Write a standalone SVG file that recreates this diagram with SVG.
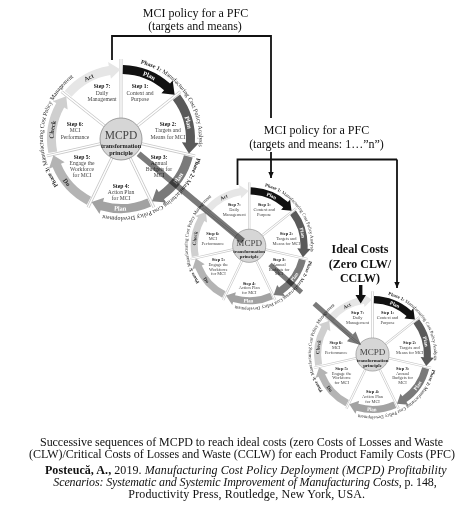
<svg xmlns="http://www.w3.org/2000/svg" xmlns:xlink="http://www.w3.org/1999/xlink" width="474" height="520" viewBox="0 0 474 520">
<style>
text { font-family: "Liberation Serif", "Times New Roman", serif; }
.b { font-weight: bold; }
.i { font-style: italic; }
.lb { font-size: 12px; text-anchor: middle; fill: #111; }
.ph { font-size: 6px; text-anchor: middle; fill: #222; }
.rl { font-size: 6.5px; font-weight: bold; text-anchor: middle; }
.w { fill: #fff; }
.d { fill: #333; }
.st { font-size: 5.6px; text-anchor: middle; fill: #444; }
.st .b { fill: #111; }
.mc { font-size: 11.5px; text-anchor: middle; fill: #444; }
.tp { font-size: 6.2px; font-weight: bold; text-anchor: middle; fill: #222; }
.hub { fill: #d6d6d6; stroke: #8a8a8a; stroke-width: 0.8; }
.so { fill: none; stroke: #c8c8c8; stroke-width: 3; }
.si { fill: none; stroke: #fff; stroke-width: 1.4; }
.ln { fill: none; stroke: #111; stroke-width: 1.8; }
.bar { stroke: #7a7a7a; fill: none; mix-blend-mode: multiply; }
.barh { fill: #7a7a7a; mix-blend-mode: multiply; }
.cap { font-size: 12px; text-anchor: middle; fill: #111; }
</style>
<defs>
<marker id="ah" markerUnits="userSpaceOnUse" markerWidth="7" markerHeight="6" refX="6" refY="2.7" orient="auto">
<path d="M0,0 L6,2.7 L0,5.4 Z" fill="#111"/>
</marker>
<path id="pc" d="M0,-78 A78,78 0 1 1 0,78 A78,78 0 1 1 0,-78"/>
<path id="lc" d="M0,-67.3 A67.3,67.3 0 1 1 0,67.3 A67.3,67.3 0 1 1 0,-67.3"/>
<path id="lcc" d="M0,-71.7 A71.7,71.7 0 1 0 0,71.7 A71.7,71.7 0 1 0 0,-71.7"/>
<path id="spk" d="M0,-21V-80M16.42,-13.09L59.42,-47.39M20.47,4.67L74.09,16.91M9.11,18.92L32.97,68.47M-9.11,18.92L-32.97,68.47M-20.47,4.67L-74.09,16.91M-16.42,-13.09L-59.42,-47.39"/>
<g id="ring">
<use href="#spk" class="so"/>
<use href="#spk" class="si"/>
<path fill="#111" d="M1.94,-73.97 A74,74 0 0 1 49.03,-55.42 L51.68,-58.42 L53.63,-44.21 L40.42,-45.69 L43.07,-48.68 A65,65 0 0 0 1.70,-64.98 Z"/>
<path fill="#5a5a5a" d="M59.10,-44.53 A74,74 0 0 1 73.90,3.87 L77.89,4.08 L67.98,14.45 L60.92,3.19 L64.91,3.40 A65,65 0 0 0 51.91,-39.12 Z"/>
<path fill="#7a7a7a" d="M71.64,18.53 A74,74 0 0 1 42.97,60.24 L45.29,63.50 L31.01,62.20 L35.42,49.66 L37.75,52.92 A65,65 0 0 0 62.93,16.27 Z"/>
<path fill="#a2a2a2" d="M30.10,67.60 A74,74 0 0 1 -20.40,71.13 L-21.50,74.98 L-29.37,62.99 L-16.81,58.64 L-17.92,62.48 A65,65 0 0 0 26.44,59.38 Z"/>
<path fill="#b4b4b4" d="M-34.17,65.64 A74,74 0 0 1 -68.37,28.32 L-72.06,29.85 L-67.58,16.22 L-56.36,23.34 L-60.05,24.87 A65,65 0 0 0 -30.01,57.66 Z"/>
<path fill="#cfcfcf" d="M-72.64,14.12 A74,74 0 0 1 -64.72,-35.88 L-68.22,-37.82 L-54.77,-42.79 L-53.35,-29.57 L-56.85,-31.51 A65,65 0 0 0 -63.81,12.40 Z"/>
<path fill="#e6e6e6" d="M-56.27,-48.06 A74,74 0 0 1 -12.21,-72.99 L-12.87,-76.93 L-0.61,-69.50 L-10.07,-60.16 L-10.73,-64.11 A65,65 0 0 0 -49.43,-42.21 Z"/>
<circle r="21" class="hub"/>
</g>
</defs>
<rect width="474" height="520" fill="#fff"/>

<g id="label-mci-1">
<text class="lb" x="195.5" y="16.5">MCI policy for a PFC</text>
<text class="lb" x="195" y="29.5">(targets and means)</text>
</g>
<g id="label-mci-2">
<text class="lb" x="316.5" y="134">MCI policy for a PFC</text>
<text class="lb" x="316.5" y="147.5">(targets and means: 1…”n”)</text>
</g>
<g id="label-ideal">
<text class="lb b" x="360" y="252.5">Ideal Costs</text>
<text class="lb b" x="360" y="267.5">(Zero CLW/</text>
<text class="lb b" x="360" y="282">CCLW)</text>
</g>

<g id="wheel1" transform="translate(121,139)">
<use href="#ring"/>
<text class="ph"><textPath href="#pc" startOffset="74.9"><tspan class="b">Phase 1:</tspan> Manufacturing Cost Policy Analysis</textPath></text>
<text class="ph"><textPath href="#pc" startOffset="202.2"><tspan class="b">Phase 2:</tspan> Manufacturing Cost Policy Development</textPath></text>
<text class="ph"><textPath href="#pc" startOffset="377.8"><tspan class="b">Phase 3:</tspan> Manufacturing Cost Policy Management</textPath></text>
<text class="rl w"><textPath href="#lc" startOffset="28.2">Plan</textPath></text>
<text class="rl w"><textPath href="#lc" startOffset="89.3">Plan</textPath></text>
<text class="rl w"><textPath href="#lcc" startOffset="294.1">Plan</textPath></text>
<text class="rl w"><textPath href="#lcc" startOffset="224">Plan</textPath></text>
<text class="rl d"><textPath href="#lcc" startOffset="160.7">Do</textPath></text>
<text class="rl d"><textPath href="#lc" startOffset="325.9">Check</textPath></text>
<text class="rl d"><textPath href="#lc" startOffset="389.7">Act</textPath></text>
<text class="st"><tspan class="b" x="19" y="-51">Step 1:</tspan><tspan x="19" y="-44.5">Context and</tspan><tspan x="19" y="-38">Purpose</tspan></text>
<text class="st"><tspan class="b" x="47" y="-13.5">Step 2:</tspan><tspan x="47" y="-7">Targets and</tspan><tspan x="47" y="-0.5">Means for MCI</tspan></text>
<text class="st"><tspan class="b" x="38" y="19.5">Step 3:</tspan><tspan x="38" y="25.5">Annual</tspan><tspan x="38" y="31.5">Budgets for</tspan><tspan x="38" y="37.5">MCI</tspan></text>
<text class="st"><tspan class="b" x="0" y="49">Step 4:</tspan><tspan x="0" y="55">Action Plan</tspan><tspan x="0" y="61">for MCI</tspan></text>
<text class="st"><tspan class="b" x="-39" y="19.5">Step 5:</tspan><tspan x="-39" y="25.5">Engage the</tspan><tspan x="-39" y="31.5">Workforce</tspan><tspan x="-39" y="37.5">for MCI</tspan></text>
<text class="st"><tspan class="b" x="-46" y="-13.5">Step 6:</tspan><tspan x="-46" y="-7">MCI</tspan><tspan x="-46" y="-0.5">Performance</tspan></text>
<text class="st"><tspan class="b" x="-19" y="-51">Step 7:</tspan><tspan x="-19" y="-44.5">Daily</tspan><tspan x="-19" y="-38">Management</tspan></text>
<text class="mc" y="0">MCPD</text>
<text class="tp" y="9">transformation</text>
<text class="tp" y="16">principle</text>
</g>

<g id="wheel2" transform="translate(249.2,245.8) scale(0.79)">
<use href="#ring"/>
<text class="ph"><textPath href="#pc" startOffset="74.9"><tspan class="b">Phase 1:</tspan> Manufacturing Cost Policy Analysis</textPath></text>
<text class="ph"><textPath href="#pc" startOffset="202.2"><tspan class="b">Phase 2:</tspan> Manufacturing Cost Policy Development</textPath></text>
<text class="ph"><textPath href="#pc" startOffset="377.8"><tspan class="b">Phase 3:</tspan> Manufacturing Cost Policy Management</textPath></text>
<text class="rl w"><textPath href="#lc" startOffset="28.2">Plan</textPath></text>
<text class="rl w"><textPath href="#lc" startOffset="89.3">Plan</textPath></text>
<text class="rl w"><textPath href="#lcc" startOffset="294.1">Plan</textPath></text>
<text class="rl w"><textPath href="#lcc" startOffset="224">Plan</textPath></text>
<text class="rl d"><textPath href="#lcc" startOffset="160.7">Do</textPath></text>
<text class="rl d"><textPath href="#lc" startOffset="325.9">Check</textPath></text>
<text class="rl d"><textPath href="#lc" startOffset="389.7">Act</textPath></text>
<text class="st"><tspan class="b" x="19" y="-51">Step 1:</tspan><tspan x="19" y="-44.5">Context and</tspan><tspan x="19" y="-38">Purpose</tspan></text>
<text class="st"><tspan class="b" x="47" y="-13.5">Step 2:</tspan><tspan x="47" y="-7">Targets and</tspan><tspan x="47" y="-0.5">Means for MCI</tspan></text>
<text class="st"><tspan class="b" x="38" y="19.5">Step 3:</tspan><tspan x="38" y="25.5">Annual</tspan><tspan x="38" y="31.5">Budgets for</tspan><tspan x="38" y="37.5">MCI</tspan></text>
<text class="st"><tspan class="b" x="0" y="49">Step 4:</tspan><tspan x="0" y="55">Action Plan</tspan><tspan x="0" y="61">for MCI</tspan></text>
<text class="st"><tspan class="b" x="-39" y="19.5">Step 5:</tspan><tspan x="-39" y="25.5">Engage the</tspan><tspan x="-39" y="31.5">Workforce</tspan><tspan x="-39" y="37.5">for MCI</tspan></text>
<text class="st"><tspan class="b" x="-46" y="-13.5">Step 6:</tspan><tspan x="-46" y="-7">MCI</tspan><tspan x="-46" y="-0.5">Performance</tspan></text>
<text class="st"><tspan class="b" x="-19" y="-51">Step 7:</tspan><tspan x="-19" y="-44.5">Daily</tspan><tspan x="-19" y="-38">Management</tspan></text>
<text class="mc" y="0">MCPD</text>
<text class="tp" y="9">transformation</text>
<text class="tp" y="16">principle</text>
</g>

<g id="wheel3" transform="translate(372.5,354.5) scale(0.79)">
<use href="#ring"/>
<text class="ph"><textPath href="#pc" startOffset="74.9"><tspan class="b">Phase 1:</tspan> Manufacturing Cost Policy Analysis</textPath></text>
<text class="ph"><textPath href="#pc" startOffset="202.2"><tspan class="b">Phase 2:</tspan> Manufacturing Cost Policy Development</textPath></text>
<text class="ph"><textPath href="#pc" startOffset="377.8"><tspan class="b">Phase 3:</tspan> Manufacturing Cost Policy Management</textPath></text>
<text class="rl w"><textPath href="#lc" startOffset="28.2">Plan</textPath></text>
<text class="rl w"><textPath href="#lc" startOffset="89.3">Plan</textPath></text>
<text class="rl w"><textPath href="#lcc" startOffset="294.1">Plan</textPath></text>
<text class="rl w"><textPath href="#lcc" startOffset="224">Plan</textPath></text>
<text class="rl d"><textPath href="#lcc" startOffset="160.7">Do</textPath></text>
<text class="rl d"><textPath href="#lc" startOffset="325.9">Check</textPath></text>
<text class="rl d"><textPath href="#lc" startOffset="389.7">Act</textPath></text>
<text class="st"><tspan class="b" x="19" y="-51">Step 1:</tspan><tspan x="19" y="-44.5">Context and</tspan><tspan x="19" y="-38">Purpose</tspan></text>
<text class="st"><tspan class="b" x="47" y="-13.5">Step 2:</tspan><tspan x="47" y="-7">Targets and</tspan><tspan x="47" y="-0.5">Means for MCI</tspan></text>
<text class="st"><tspan class="b" x="38" y="19.5">Step 3:</tspan><tspan x="38" y="25.5">Annual</tspan><tspan x="38" y="31.5">Budgets for</tspan><tspan x="38" y="37.5">MCI</tspan></text>
<text class="st"><tspan class="b" x="0" y="49">Step 4:</tspan><tspan x="0" y="55">Action Plan</tspan><tspan x="0" y="61">for MCI</tspan></text>
<text class="st"><tspan class="b" x="-39" y="19.5">Step 5:</tspan><tspan x="-39" y="25.5">Engage the</tspan><tspan x="-39" y="31.5">Workforce</tspan><tspan x="-39" y="37.5">for MCI</tspan></text>
<text class="st"><tspan class="b" x="-46" y="-13.5">Step 6:</tspan><tspan x="-46" y="-7">MCI</tspan><tspan x="-46" y="-0.5">Performance</tspan></text>
<text class="st"><tspan class="b" x="-19" y="-51">Step 7:</tspan><tspan x="-19" y="-44.5">Daily</tspan><tspan x="-19" y="-38">Management</tspan></text>
<text class="mc" y="0">MCPD</text>
<text class="tp" y="9">transformation</text>
<text class="tp" y="16">principle</text>
</g>

<g id="connectors">
<polyline class="ln" points="112,60 112,36 271,36 271,118"/>
<polyline class="ln" points="237.5,185 237.5,159.5 397,159.5"/>
<line class="ln" x1="397" y1="159.5" x2="397" y2="288" marker-end="url(#ah)"/>
<line class="ln" x1="271" y1="152" x2="271" y2="178" marker-end="url(#ah)"/>
<path d="M359,285 H362.4 V295 H365.9 L360.7,303.5 L355.5,295 H359 Z" fill="#111"/>
<line class="bar" x1="138.6" y1="153.7" x2="243" y2="241" stroke-width="6"/>
<line class="bar" x1="270" y1="264.5" x2="301.5" y2="292.3" stroke-width="5"/>
<line class="bar" x1="314.3" y1="303.6" x2="351.25" y2="336.4" stroke-width="5"/>
<path class="barh" d="M346.95,341.28 L355.55,331.52 L361,345 Z"/>
</g>

<g id="caption">
<text class="cap" x="241.5" y="446" textLength="403">Successive sequences of MCPD to reach ideal costs (zero Costs of Losses and Waste</text>
<text class="cap" x="242" y="457.5" textLength="426">(CLW)/Critical Costs of Losses and Waste (CCLW) for each Product Family Costs (PFC)</text>
<text class="cap" x="245.8" y="474.3" textLength="401.7"><tspan class="b">Posteucă, A.,</tspan> 2019. <tspan class="i">Manufacturing Cost Policy Deployment (MCPD) Profitability</tspan></text>
<text class="cap" x="245" y="486" textLength="383.3"><tspan class="i">Scenarios: Systematic and Systemic Improvement of Manufacturing Costs</tspan>, p. 148,</text>
<text class="cap" x="246.7" y="497.5" textLength="236.7">Productivity Press, Routledge, New York, USA.</text>
</g>
</svg>
